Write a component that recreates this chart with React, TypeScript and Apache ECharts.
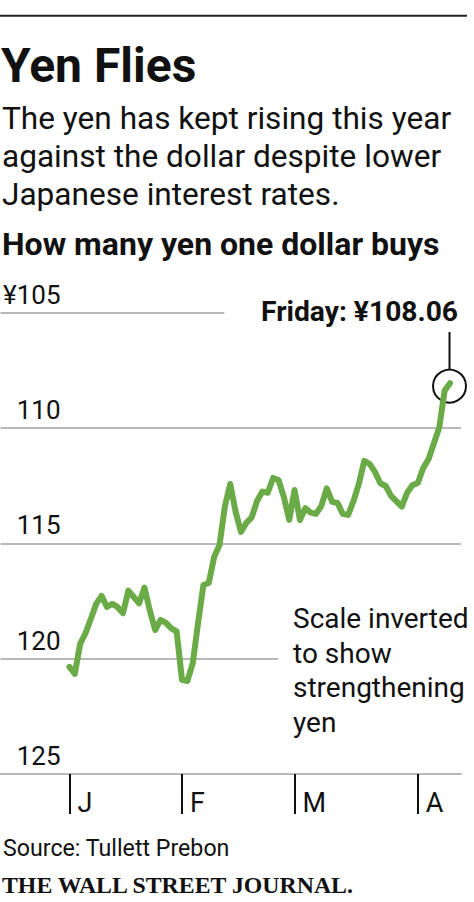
import React, { useEffect, useRef } from 'react';
import * as echarts from 'echarts';

// Dollar-yen, weekday index from Jan 1 through Friday Apr 8
const usdJpy = [
  120.36, 120.66, 119.36, 118.9, 118.27, 117.62, 117.28, 117.76, 117.63, 117.77,
  118.03, 117.05, 117.33, 117.6, 116.92, 117.92, 118.76, 118.32, 118.45, 118.69,
  118.82, 120.92, 120.97, 120.21, 118.45, 116.81, 116.72, 115.59, 115.07, 113.4,
  112.43, 113.63, 114.51, 114.12, 113.88, 113.17, 112.76, 112.81, 112.17, 112.26,
  112.99, 113.99, 112.69, 113.99, 113.48, 113.67, 113.73, 113.38, 112.62, 113.2,
  113.25, 113.73, 113.77, 113.17, 112.42, 111.43, 111.56, 111.91, 112.4, 112.52,
  112.95, 113.18, 113.41, 112.81, 112.48, 112.39, 111.74, 111.35, 110.67, 109.97,
  108.39, 108.06,
];
const monthLabels = ['J', 'F', 'M', 'A'];
const monthStarts = [0, 21, 42, 65];
const yTicks = [105, 110, 115, 120, 125];

const X_MIN = -12.86;
const X_MAX = 73.05;
const GRID_ENDS = [28.9, X_MAX, X_MAX, 38.95];
const GREEN = '#6aab47';
const GRID = '#b8b8b8';
const INK = '#111111';
const SANS = 'Roboto, sans-serif';

export default function App() {
  const ref = useRef<HTMLDivElement>(null);
  useEffect(() => {
    if (!ref.current) return;
    const chart = echarts.init(ref.current, null, { renderer: 'svg' });
    chart.setOption({
      animation: false,
      grid: { left: 0, right: 13, top: 312.5, bottom: 128, containLabel: false },
      xAxis: {
        type: 'value',
        min: X_MIN,
        max: X_MAX,
        splitLine: { show: false },
        axisLine: { show: true, lineStyle: { color: GRID, width: 2 } },
        axisTick: {
          show: true,
          customValues: monthStarts,
          length: 40,
          lineStyle: { color: INK, width: 2 },
        },
        axisLabel: {
          customValues: monthStarts,
          formatter: (v: number) => monthLabels[monthStarts.indexOf(v)] ?? '',
          align: 'left',
          verticalAlign: 'bottom',
          margin: 42,
          padding: [0, 0, 0, 8],
          fontSize: 27,
          lineHeight: 27,
          color: INK,
          fontFamily: SANS,
        },
      },
      yAxis: {
        type: 'value',
        inverse: true,
        min: 105,
        max: 125,
        interval: 5,
        axisLine: { show: false },
        axisTick: { show: false },
        splitLine: { show: false },
        axisLabel: {
          inside: true,
          margin: 60,
          align: 'right',
          verticalAlign: 'bottom',
          fontSize: 26,
          lineHeight: 26,
          padding: [0, 0, 5, 0],
          color: INK,
          fontFamily: SANS,
          formatter: (v: number) => (v === yTicks[0] ? '¥' + v : String(v)),
        },
      },
      series: [
        {
          type: 'line',
          data: usdJpy.map((v, i) => [i, v]),
          showSymbol: false,
          z: 3,
          lineStyle: { color: GREEN, width: 6, cap: 'round', join: 'round' },
          markLine: {
            silent: true,
            z: 1,
            symbol: ['none', 'none'],
            label: { show: false },
            lineStyle: { color: GRID, width: 2, type: 'solid' },
            data: yTicks.slice(0, 4).map((v, k) => [
              { coord: [X_MIN, v] },
              { coord: [GRID_ENDS[k], v] },
            ]),
          },
        },
      ],
    });

    const lastIdx = usdJpy.length - 1;
    const last = usdJpy[lastIdx];
    const p = chart.convertToPixel({ gridIndex: 0 }, [lastIdx, last]) as number[];
    const cx = p[0] - 0.5;
    const cy = p[1] + 3;
    const txt = (text: string, x: number, y: number, size: number, weight = 'normal', extra: any = {}) => ({
      type: 'text',
      x,
      y,
      style: {
        text,
        fill: INK,
        fontSize: size,
        fontWeight: weight,
        fontFamily: SANS,
        align: 'left',
        verticalAlign: 'middle',
        ...extra,
      },
    });
    chart.setOption({
      graphic: [
        { type: 'line', shape: { x1: 0, y1: 15.7, x2: 467, y2: 15.7 }, style: { stroke: '#222', lineWidth: 2 } },
        txt('Yen Flies', 1, 65.5, 48, 'bold'),
        txt('The yen has kept rising this year', 2, 118, 31.6),
        txt('against the dollar despite lower', 2, 156, 31.6),
        txt('Japanese interest rates.', 2, 194, 31.6),
        txt('How many yen one dollar buys', 2, 244, 32, 'bold'),
        txt('Friday: ¥' + last.toFixed(2), 458, 311.5, 28.2, 'bold', { align: 'right' }),
        { type: 'line', shape: { x1: cx, y1: cy - 54, x2: cx, y2: cy - 16.5 }, style: { stroke: INK, lineWidth: 2 } },
        { type: 'circle', shape: { cx, cy, r: 16.5 }, style: { fill: 'none', stroke: INK, lineWidth: 2 } },
        txt('Scale inverted', 293, 618.5, 28),
        txt('to show', 293, 653.5, 28),
        txt('strengthening', 293, 687.5, 28),
        txt('yen', 293, 722, 28),
        txt('Source: Tullett Prebon', 3, 848, 23.2),
        {
          type: 'text',
          x: 2,
          y: 885,
          style: {
            text: 'THE WALL STREET JOURNAL.',
            fill: INK,
            fontSize: 23.8,
            fontWeight: 'bold',
            fontFamily: '"Liberation Serif", "DejaVu Serif", serif',
            align: 'left',
            verticalAlign: 'middle',
          },
        },
      ],
    });
    return () => chart.dispose();
  }, []);
  return (
    <div
      ref={ref}
      style={{ position: 'absolute', left: 0, top: 0, width: 474, height: 902, background: '#fff' }}
    />
  );
}
